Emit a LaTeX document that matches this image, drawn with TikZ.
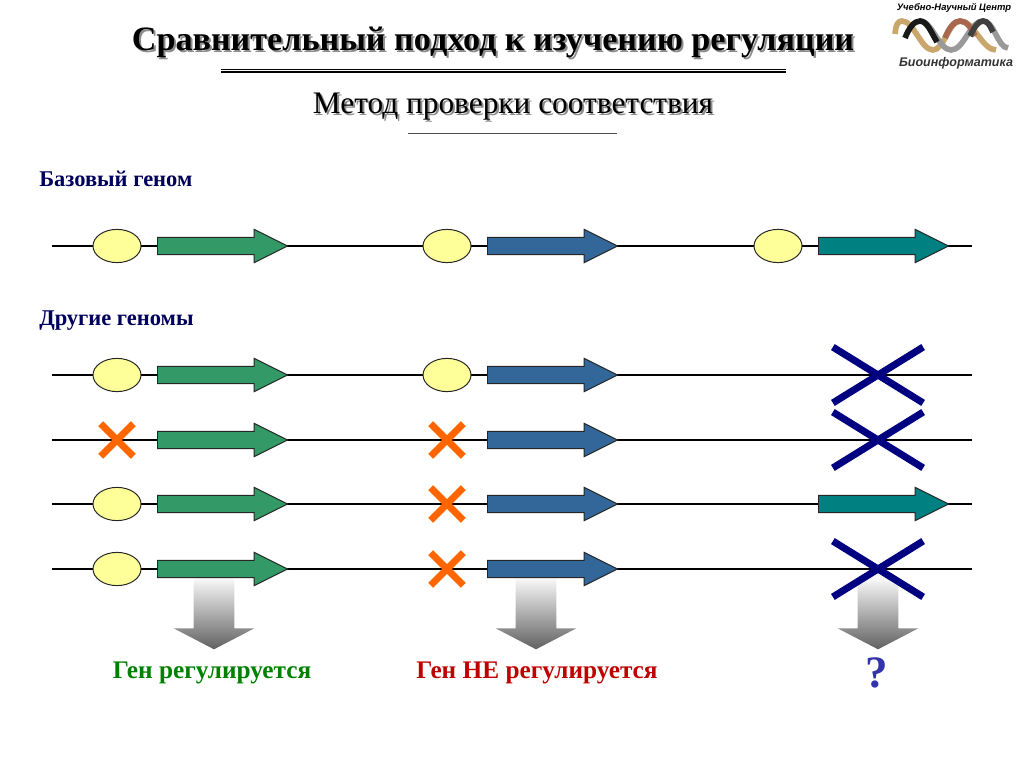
\documentclass[tikz,border=0pt]{standalone}
\usepackage{fontspec}
\setmainfont{Liberation Serif}
\newfontfamily\logofont{Liberation Sans}
\usepackage{xcolor}
\usetikzlibrary{arrows.meta,positioning,calc,shapes.arrows,shapes.misc,shapes.geometric}
\definecolor{genegreen}{HTML}{339966}
\definecolor{geneblue}{HTML}{336699}
\definecolor{geneteal}{HTML}{008080}
\definecolor{sitefill}{HTML}{FFFF99}
\definecolor{crossnavy}{HTML}{000080}
\definecolor{crossorange}{HTML}{FF6600}
\definecolor{logotan}{HTML}{C9A66B}
\definecolor{logobrown}{HTML}{A8684F}

\begin{document}
\begin{tikzpicture}[
    x=0.025cm,y=-0.025cm,
    genome/.style={draw=black,line width=1.1pt},
    site/.style={ellipse,draw=black!85,fill=sitefill,line width=0.7pt,
      minimum width=1.2cm,minimum height=0.83cm,inner sep=0pt},
    gene/.style={single arrow,draw=black!85,line width=0.7pt,inner sep=0.205cm,
      minimum height=3.25cm,
      single arrow head extend=0.2cm,single arrow tip angle=53},
    lost/.style={cross out,draw=crossorange,line width=5pt,inner sep=0pt,
      minimum width=0.64cm,minimum height=0.64cm},
    nohit/.style={cross out,draw=crossnavy,line width=5pt,inner sep=0pt,
      minimum width=2.08cm,minimum height=1.22cm},
    result/.style={single arrow,shape border rotate=270,inner sep=0.5cm,
      top color=white,bottom color=black!62,
      minimum height=1.85cm,
      single arrow head extend=0.5cm,single arrow tip angle=125},
    heading/.style={font=\fontsize{24.3}{28}\selectfont\bfseries,inner sep=0pt,anchor=base},
    subheading/.style={font=\fontsize{22.3}{26}\selectfont,inner sep=0pt,anchor=base},
    rowlabel/.style={font=\fontsize{16}{19}\selectfont\bfseries,text=black!40!blue!60!black,anchor=base west,inner sep=0pt},
    verdict/.style={font=\fontsize{18}{21}\selectfont\bfseries,inner sep=0pt,anchor=base}
  ]
    \useasboundingbox (0,0) rectangle (1024,768);
    % titles
    \node[heading,text=black!45] (titleback) at (495,53) {Сравнительный подход к изучению регуляции};
    \node[heading] (title) at (493,51) {Сравнительный подход к изучению регуляции};
    \node[subheading,text=black!45] (subback) at (515,116) {Метод проверки соответствия};
    \node[subheading] (subtitle) at (513,114) {Метод проверки соответствия};
    \coordinate (ruleleft) at (221,69);
    \coordinate (ruleright) at (786,69);
    \draw[line width=0.5pt] (ruleleft) -- (ruleright);
    \draw[line width=1pt] ([yshift=-0.075cm]ruleleft) -- ([yshift=-0.075cm]ruleright);
    \coordinate (subleft) at (408,133);
    \coordinate (subright) at (617,133);
    \draw[draw=black!70,line width=0.6pt] (subleft) -- (subright);
    % logo
    \draw[line width=4pt,draw=logotan] (895,34) .. controls (896,24) and (898,21) .. (902,21) .. controls (914,21) and (921,50) .. (933,50) .. controls (944,50) and (949,21) .. (960,21) .. controls (974,21) and (982,50) .. (996,50);
    \draw[line width=4pt,draw=black!40] (920,21) .. controls (932,21) and (939,50) .. (951,50) .. controls (964,50) and (970,21) .. (983,21) .. controls (994,21) and (998,48) .. (1008,48);
    \draw[line width=4pt,draw=black!90] (905,38) .. controls (909,28) and (914,21) .. (920,21) .. controls (927,21) and (931,32) .. (937,42);
    \draw[line width=4pt,draw=logobrown] (945,38) .. controls (949,28) and (954,21) .. (960,21) .. controls (967,21) and (971,28) .. (975,36);
    \draw[line width=4pt,draw=black!75] (970,36) .. controls (974,28) and (978,21) .. (983,21) .. controls (988,21) and (990,26) .. (993,32);
    \node[font=\logofont\fontsize{6.7}{8}\selectfont\bfseries\itshape,inner sep=0pt] (logotop) at (954,8) {Учебно-Научный Центр};
    \node[font=\logofont\fontsize{8.9}{10}\selectfont\bfseries\itshape,text=black!80,inner sep=0pt] (logobottom) at (956,63) {Биоинформатика};
    % row labels
    \node[rowlabel] (baselabel) at (39,186) {Базовый геном};
    \node[rowlabel] (otherlabel) at (39,325) {Другие геномы};
    % genome lines
    \coordinate (basestart) at (52,246);
    \coordinate (baseend) at (972,246);
    \coordinate (onestart) at (52,375);
    \coordinate (oneend) at (972,375);
    \coordinate (twostart) at (52,440);
    \coordinate (twoend) at (972,440);
    \coordinate (threestart) at (52,504);
    \coordinate (threeend) at (972,504);
    \coordinate (fourstart) at (52,569);
    \coordinate (fourend) at (972,569);
    \draw[genome] (basestart) -- (baseend);
    \draw[genome] (onestart) -- (oneend);
    \draw[genome] (twostart) -- (twoend);
    \draw[genome] (threestart) -- (threeend);
    \draw[genome] (fourstart) -- (fourend);
    % result arrows
    \node[result,anchor=tail] (resulta) at (214,575) {};
    \node[result,anchor=tail] (resultb) at (536,575) {};
    \node[result,anchor=tail] (resultc) at (878,575) {};
    % base genome
    \node[site] (basesitea) at (117,246) {};
    \node[gene,fill=genegreen,anchor=tail] (basegenea) at (157,246) {};
    \node[site] (basesiteb) at (447,246) {};
    \node[gene,fill=geneblue,anchor=tail] (basegeneb) at (487,246) {};
    \node[site] (basesitec) at (778,246) {};
    \node[gene,fill=geneteal,anchor=tail] (basegenec) at (818,246) {};
    % genome one
    \node[site] (onesitea) at (117,375) {};
    \node[gene,fill=genegreen,anchor=tail] (onegenea) at (157,375) {};
    \node[site] (onesiteb) at (447,375) {};
    \node[gene,fill=geneblue,anchor=tail] (onegeneb) at (487,375) {};
    \node[nohit] (onecross) at (878,375) {};
    % genome two
    \node[lost] (twolosta) at (117,440) {};
    \node[gene,fill=genegreen,anchor=tail] (twogenea) at (157,440) {};
    \node[lost] (twolostb) at (447,440) {};
    \node[gene,fill=geneblue,anchor=tail] (twogeneb) at (487,440) {};
    \node[nohit] (twocross) at (878,440) {};
    % genome three
    \node[site] (threesitea) at (117,504) {};
    \node[gene,fill=genegreen,anchor=tail] (threegenea) at (157,504) {};
    \node[lost] (threelostb) at (447,504) {};
    \node[gene,fill=geneblue,anchor=tail] (threegeneb) at (487,504) {};
    \node[gene,fill=geneteal,anchor=tail] (threegenec) at (818,504) {};
    % genome four
    \node[site] (foursitea) at (117,569) {};
    \node[gene,fill=genegreen,anchor=tail] (fourgenea) at (157,569) {};
    \node[lost] (fourlostb) at (447,569) {};
    \node[gene,fill=geneblue,anchor=tail] (fourgeneb) at (487,569) {};
    \node[nohit] (fourcross) at (878,569) {};
    % verdicts
    \node[verdict,text=green!50!black] (regulated) at (212,678) {Ген регулируется};
    \node[verdict,text=red!75!black] (notregulated) at (537,678) {Ген НЕ регулируется};
    \node[font=\fontsize{32}{38}\selectfont\bfseries,text=blue!60!black!80,inner sep=0pt] (unknown) at (877,673) {?};
  \end{tikzpicture}
\end{document}
